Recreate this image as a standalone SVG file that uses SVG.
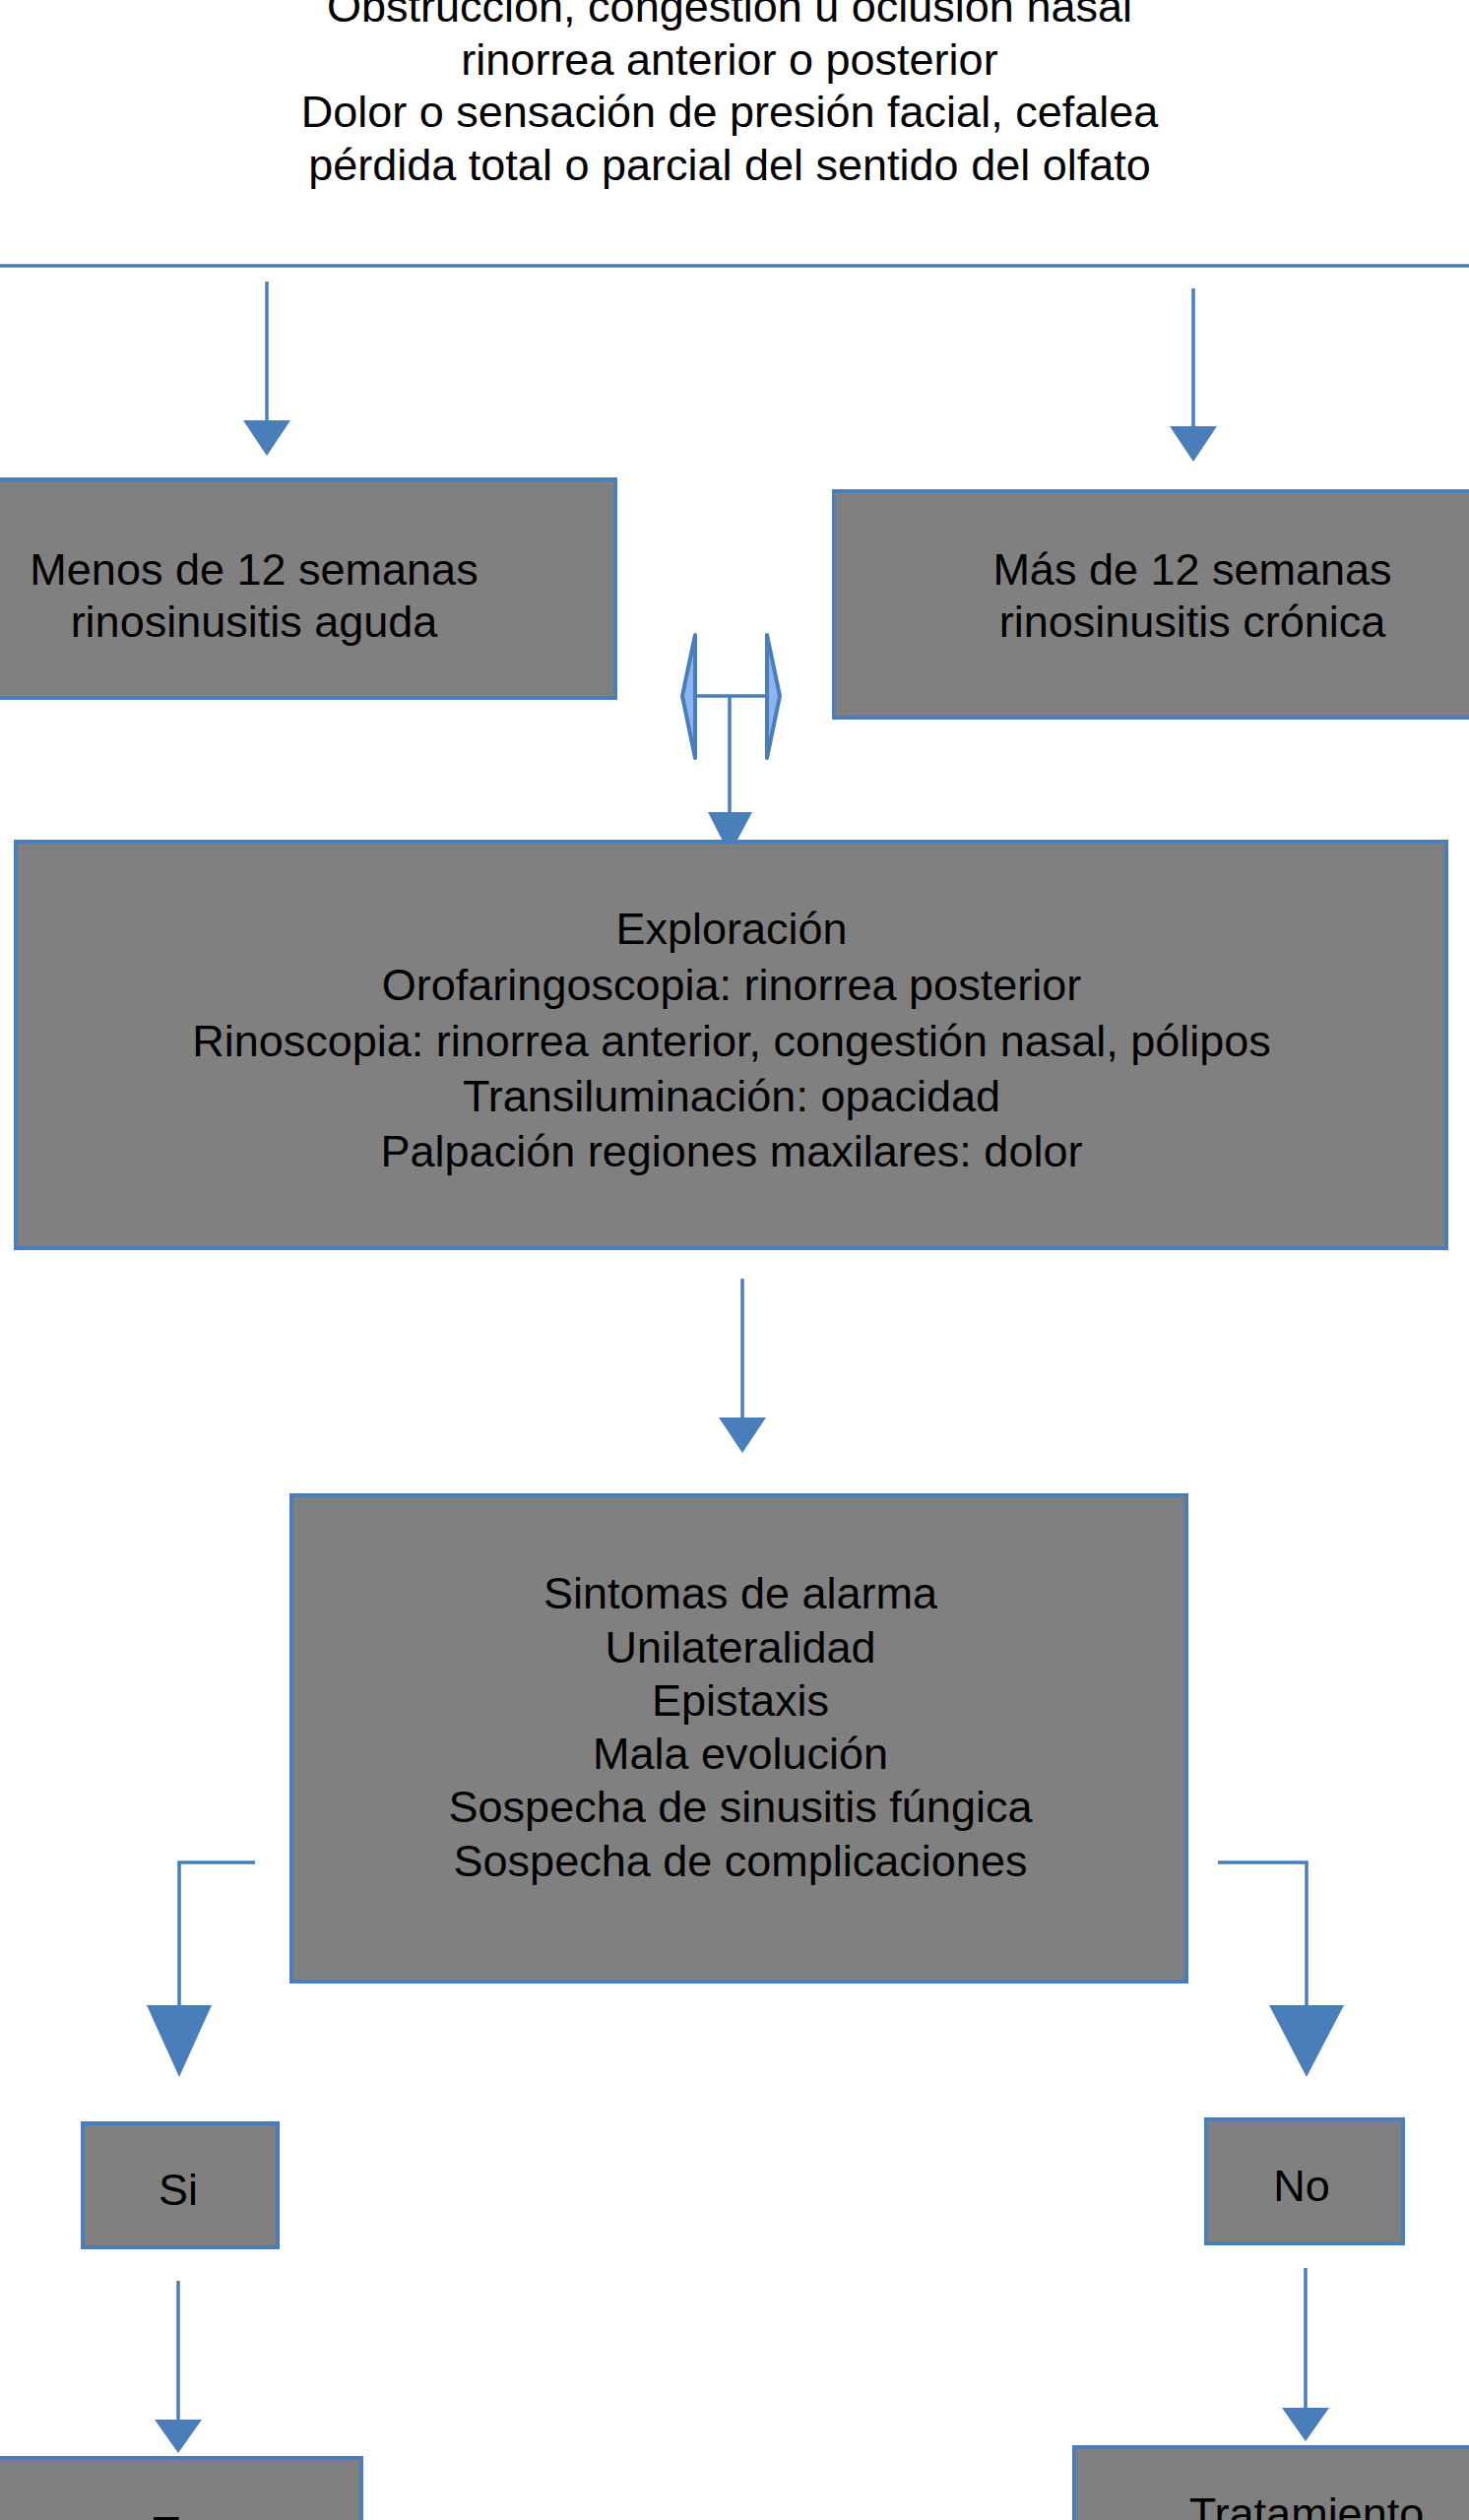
<svg xmlns="http://www.w3.org/2000/svg" width="1492" height="2560" viewBox="0 0 1492 2560">
<style>
.b{fill:#808080;stroke:#4a7ebb;stroke-width:4}
.t{font-family:"Liberation Sans",Arial,sans-serif;font-size:45px;fill:#000;text-anchor:middle}
.c{stroke:#4a7ebb;stroke-width:3.5;fill:none}
.h{fill:#4a7ebb}
</style>
<rect width="1492" height="2560" fill="#fff"/>
<g id="top">
<text class="t" x="741" y="22">Obstrucción, congestión u oclusión nasal</text>
<text class="t" x="741" y="76">rinorrea anterior o posterior</text>
<text class="t" x="741" y="129">Dolor o sensación de presión facial, cefalea</text>
<text class="t" x="741" y="183">pérdida total o parcial del sentido del olfato</text>
</g>
<g id="connectors">
<line class="c" x1="0" y1="270" x2="1492" y2="270"/>
<line class="c" x1="271" y1="286" x2="271" y2="430"/><polygon class="h" points="247,427 295,427 271,463"/>
<line class="c" x1="1212" y1="293" x2="1212" y2="436"/><polygon class="h" points="1188,433 1236,433 1212,469"/>
<path d="M706,645 L693,707 L706,770 Z" fill="#8eb4f0" stroke="#4a7ebb" stroke-width="4" stroke-linejoin="round"/>
<path d="M779,645 L792,707 L779,770 Z" fill="#8eb4f0" stroke="#4a7ebb" stroke-width="4" stroke-linejoin="round"/>
<line class="c" x1="706" y1="707" x2="779" y2="707" stroke-width="4"/>
<line class="c" x1="741" y1="707" x2="741" y2="830" stroke-width="4"/><polygon class="h" points="719,825 764,825 741,868"/>
<line class="c" x1="754" y1="1299" x2="754" y2="1442"/><polygon class="h" points="730,1440 778,1440 754,1476"/>
<polyline class="c" points="259,1892 182,1892 182,2040"/><polygon class="h" points="149,2037 215,2037 182,2110"/>
<polyline class="c" points="1237,1892 1327,1892 1327,2040"/><polygon class="h" points="1289,2037 1365,2037 1327,2110"/>
<line class="c" x1="181" y1="2317" x2="181" y2="2460"/><polygon class="h" points="157,2458 205,2458 181,2492"/>
<line class="c" x1="1326" y1="2304" x2="1326" y2="2448"/><polygon class="h" points="1302,2446 1350,2446 1326,2480"/>
</g>
<g id="menos"><rect class="b" x="-5" y="487" width="630" height="222"/>
<text class="t" x="258" y="594">Menos de 12 semanas</text><text class="t" x="258" y="647">rinosinusitis aguda</text></g>
<g id="mas"><rect class="b" x="847" y="499" width="660" height="230"/>
<text class="t" x="1211" y="594">Más de 12 semanas</text><text class="t" x="1211" y="647">rinosinusitis crónica</text></g>
<g id="exploracion"><rect class="b" x="16" y="855" width="1453" height="413"/>
<text class="t" x="743" y="959">Exploración</text>
<text class="t" x="743" y="1016">Orofaringoscopia: rinorrea posterior</text>
<text class="t" x="743" y="1073">Rinoscopia: rinorrea anterior, congestión nasal, pólipos</text>
<text class="t" x="743" y="1129">Transiluminación: opacidad</text>
<text class="t" x="743" y="1185">Palpación regiones maxilares: dolor</text></g>
<g id="alarma"><rect class="b" x="296" y="1519" width="909" height="494"/>
<text class="t" x="752" y="1634">Sintomas de alarma</text>
<text class="t" x="752" y="1689">Unilateralidad</text>
<text class="t" x="752" y="1743">Epistaxis</text>
<text class="t" x="752" y="1797">Mala evolución</text>
<text class="t" x="752" y="1851">Sospecha de sinusitis fúngica</text>
<text class="t" x="752" y="1906">Sospecha de complicaciones</text></g>
<g id="si"><rect class="b" x="84" y="2157" width="198" height="126"/><text class="t" x="181" y="2240">Si</text></g>
<g id="no"><rect class="b" x="1225" y="2153" width="200" height="126"/><text class="t" x="1322" y="2236">No</text></g>
<g id="tac"><rect class="b" x="-5" y="2497" width="372" height="100"/><text class="t" x="190" y="2588">Tac</text></g>
<g id="tratamiento"><rect class="b" x="1091" y="2486" width="420" height="110"/><text class="t" x="1327" y="2569">Tratamiento</text></g>
</svg>
